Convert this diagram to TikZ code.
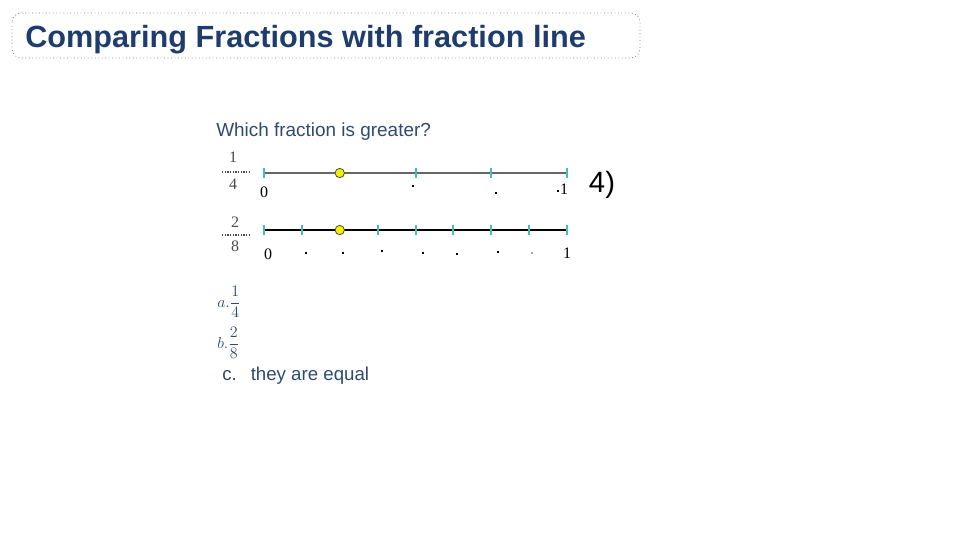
\documentclass[tikz,border=0pt]{standalone}
\usepackage{fontspec}
\setmainfont{Liberation Sans}
\newfontfamily\numfont{Liberation Serif}
\usetikzlibrary{calc}

\definecolor{titleblue}{HTML}{1F3D6C}
\definecolor{textblue}{HTML}{2E4A6E}
\definecolor{tickteal}{HTML}{3EC2B6}
\definecolor{dotyellow}{HTML}{F4F000}
\definecolor{fracgray}{HTML}{4A4A4A}

\tikzset{
  tickmark/.style={tickteal, line width=1.5pt},
  markdot/.style={circle, draw=black!70, fill=dotyellow, line width=0.6pt, inner sep=0pt, minimum size=7pt},
  numlabel/.style={font=\numfont\fontsize{12}{12}\selectfont, inner sep=0pt},
  fraclabel/.style={font=\numfont\fontsize{12}{12}\selectfont, text=fracgray, inner sep=0pt},
  speck/.style={fill=black, inner sep=0pt, minimum size=1.6pt},
  choice/.style={anchor=base west, inner sep=0pt, text=textblue},
}

\begin{document}
\begin{tikzpicture}[x=0.75pt,y=-0.75pt]

    % Page size in pixels
    \useasboundingbox (0,0) rectangle (960,540);

    % Title box
    \draw[gray, dotted, line width=0.6pt, rounded corners=7pt] (12,13) rectangle (640,58);
    \node[anchor=base west, inner sep=0pt, text=titleblue,
          font=\bfseries\fontsize{23}{26}\selectfont] (title) at (25,47)
          {Comparing Fractions with fraction line};

    % Question
    \node[choice, font=\fontsize{14.2}{16}\selectfont] (question) at (216,136)
          {Which fraction is greater?};

    % End points of the two number lines
    \coordinate (A0) at (264,173);
    \coordinate (A1) at (567,173);
    \coordinate (B0) at (264,230);
    \coordinate (B1) at (567,230);

    % Line in fourths
    \draw[black!60, line width=2pt] (A0) -- (A1);
    \foreach \i in {0,...,4}
      \draw[tickmark] ($(A0)!\i/4!(A1)$) ++(0,-5) -- ++(0,10);
    \node[markdot] (dotA) at ($(A0)!1/4!(A1)$) {};

    % Line in eighths
    \draw[black, line width=1.5pt] (B0) -- (B1);
    \foreach \i in {0,...,8}
      \draw[tickmark] ($(B0)!\i/8!(B1)$) ++(0,-5) -- ++(0,10);
    \node[markdot] (dotB) at ($(B0)!2/8!(B1)$) {};

    % Fraction names at the left
    \node[fraclabel] (fracAn) at (233,157) {1};
    \node[fraclabel] (fracAd) at (233,184) {4};
    \draw[fracgray, densely dotted, line width=1pt] (222,172) -- (249,172);
    \node[fraclabel] (fracBn) at (235,222) {2};
    \node[fraclabel] (fracBd) at (235,246) {8};
    \draw[fracgray, densely dotted, line width=1pt] (222,235) -- (249,235);

    % Labels under the lines
    \node[numlabel] (zeroA) at (264,192) {0};
    \node[numlabel] (oneA) at (564,189) {1};
    \node[numlabel] (zeroB) at (268,254) {0};
    \node[numlabel] (oneB) at (567,253) {1};

    % Small marks left under the lines
    \foreach \x/\y in {413/186, 496/193, 558/191}
      \node[speck] at (\x,\y) {};
    \foreach \x/\y in {306/253, 343/253, 382/251, 423/253, 457/254, 498/252}
      \node[speck] at (\x,\y) {};
    \node[speck, fill=black!35] at (532,253) {};

    % Handwritten number
    \node[font=\fontsize{22}{22}\selectfont, inner sep=0pt] (num) at (602,185) {4)};

    % Choices
    \node[choice, font=\fontsize{12}{14}\selectfont] (choiceA) at (217,307)
          {$a.\displaystyle\frac{1}{4}$};
    \node[choice, font=\fontsize{12}{14}\selectfont] (choiceB) at (217,348)
          {$b.\displaystyle\frac{2}{8}$};
    \node[choice, font=\fontsize{14}{16}\selectfont] (choiceC) at (222,380)
          {c.\hspace{0.75em}they are equal};

\end{tikzpicture}
\end{document}
